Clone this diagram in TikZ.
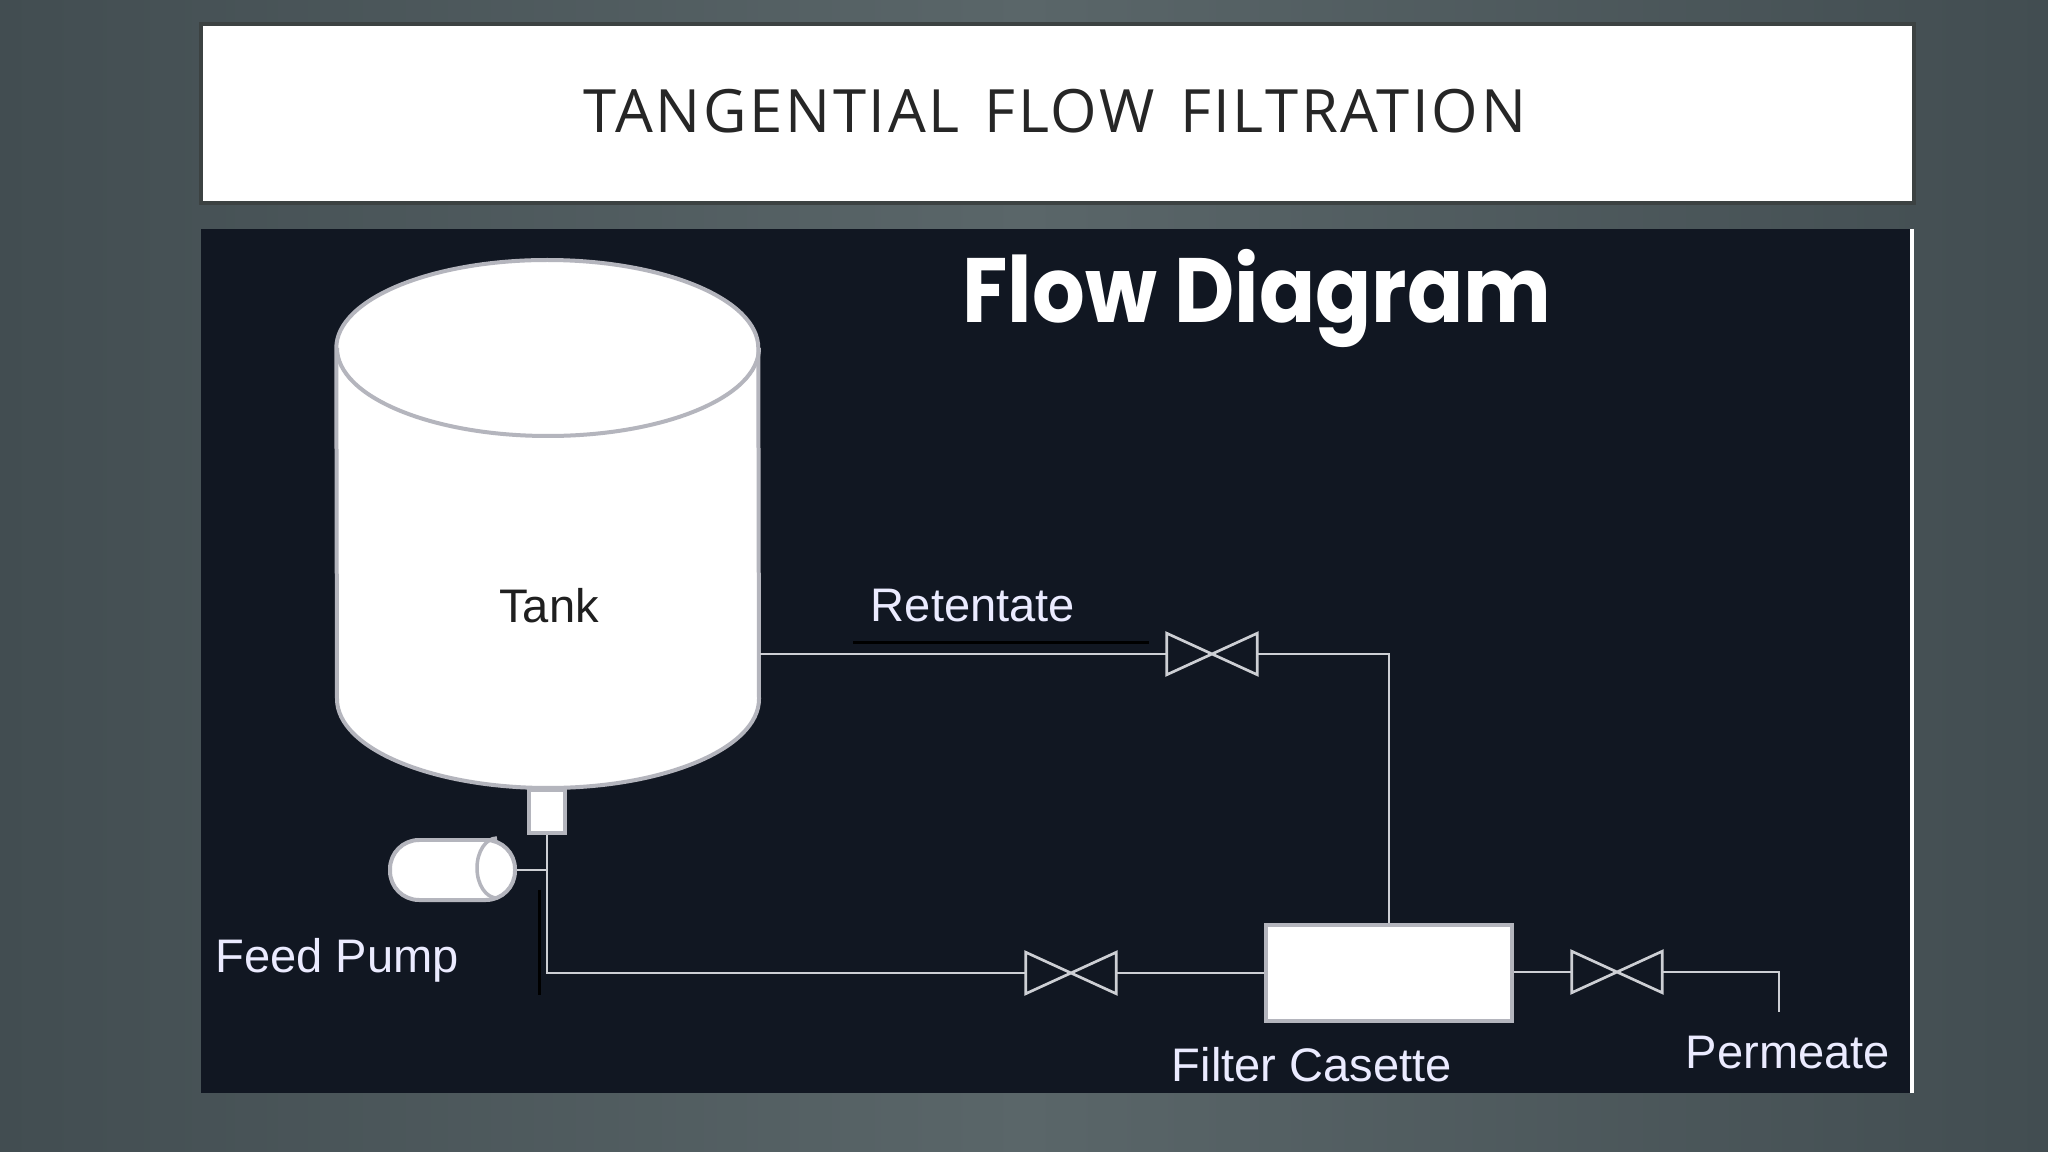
\documentclass[tikz,border=0pt]{standalone}
\usepackage{fontspec}
\setmainfont{Liberation Sans}
\newfontfamily\titlefont[LetterSpace=4.4,WordSpace=1.4]{Open Sans}
\newfontfamily\headfont{Poppins}
\usetikzlibrary{positioning}

\definecolor{panelblue}{HTML}{111722}
\definecolor{edgegrey}{HTML}{B4B5BD}
\definecolor{pipegrey}{HTML}{CDCFD4}
\definecolor{slatemid}{HTML}{5A6669}
\definecolor{slateend}{HTML}{424D51}
\definecolor{barshadow}{HTML}{3C4242}

\begin{document}
\begin{tikzpicture}[
part/.style={draw=edgegrey, fill=white, line width=.04cm, inner sep=0pt},
valve/.style={inner sep=0pt, minimum width=.89cm, minimum height=.40cm},
pipe/.style={draw=pipegrey, line width=.027cm},
label/.style={text=white!92!blue, font=\fontsize{13.4}{16}\selectfont, inner sep=0pt},
]

\useasboundingbox (0,0) rectangle (20.48,-11.52);
\shade[left color=slateend, right color=slateend, middle color=slatemid] (0,0) rectangle (20.48,-11.52);

% title bar
\node[draw=barshadow, fill=white, line width=.04cm, minimum width=17.13cm, minimum height=1.79cm, inner sep=0pt] (titlebar) at (10.575,-1.135) {};
\node[text=black!85, font=\titlefont\fontsize{17}{20}\selectfont, inner sep=0pt] (titletext) at (10.55,-1.11) {TANGENTIAL FLOW FILTRATION};

% dark panel
\fill[panelblue] (2.01,-2.29) rectangle (19.13,-10.93);
\draw[white, line width=.04cm] (19.12,-2.29) -- (19.12,-10.93);
\node[text=white, font=\headfont\bfseries\fontsize{26}{30}\selectfont, inner sep=0pt, xscale=.907] (heading) at (12.57,-2.98) {Flow Diagram};

% tank
\node[inner sep=0pt, minimum width=4.22cm, minimum height=5.28cm] (tank) at (5.48,-5.24) {};
\draw[part] (tank.west |- 0,-3.48) arc[start angle=180, end angle=0, x radius=2.11, y radius=.88]
  -- (7.59,-6.99) arc[start angle=0, end angle=-180, x radius=2.11, y radius=.89] -- cycle;
\draw[draw=edgegrey, line width=.04cm] (3.37,-3.48) arc[start angle=180, end angle=360, x radius=2.11, y radius=.88];
\node[label, text=black!88] (tanklabel) at (5.49,-6.06) {Tank};

% parts
\node[part, minimum width=.36cm, minimum height=.43cm] (neck) at (5.47,-8.115) {};
\node[part, rounded corners=.29cm, minimum width=1.25cm, minimum height=.60cm] (pump) at (4.525,-8.70) {};
\draw[draw=edgegrey, line width=.035cm] ([xshift=-.20cm]pump.north east) arc[start angle=90, end angle=270, x radius=.2, y radius=.30];
\node[part, minimum width=2.46cm, minimum height=.96cm] (filter) at (13.89,-9.73) {};

\node[valve] (vfeed) at (10.71,-9.73) {};
\node[valve] (vret) at (12.12,-6.54) {};
\node[valve] (vperm) at (16.17,-9.72) {};
\coordinate (permend) at (17.79,-10.12);

% pipes
\draw[pipe] (tank.east |- vret) -- (vret) -- (vret -| filter) -- (filter.north);
\draw[pipe] (neck.south) -- (neck.south |- vfeed) -- (vfeed) -- (filter.west);
\draw[pipe] (pump.east) -- (pump.east -| neck);
\draw[pipe] (filter.east |- vperm) -- (vperm) -- (vperm -| permend) -- (permend);
\foreach \v in {vfeed,vret,vperm}
  \draw[pipe] (\v.south west) -- (\v.north east) -- (\v.south east) -- (\v.north west) -- cycle;

% black marks
\coordinate (stubtop) at (5.39,-8.90);
\coordinate (stubend) at (5.39,-9.95);
\coordinate (ruleleft) at (8.53,-6.43);
\coordinate (ruleright) at (11.49,-6.43);
\draw[black, line width=.03cm] (stubtop) -- (stubend);
\draw[black, line width=.03cm] (ruleleft) -- (ruleright);

% labels
\node[label] (retlabel) at (9.73,-6.06) {Retentate};
\node[label] (pumplabel) at (3.37,-9.60) {Feed Pump};
\node[label] (filterlabel) at (13.12,-10.65) {Filter Casette};
\node[label] (permlabel) at (17.88,-10.53) {Permeate};
\end{tikzpicture}
\end{document}
